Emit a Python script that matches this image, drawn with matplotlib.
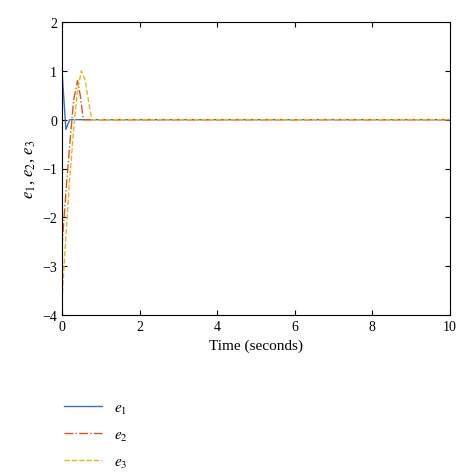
import matplotlib
matplotlib.use("Agg")
import matplotlib.pyplot as plt

t1 = [0, 0.1, 0.2, 10]
e1 = [1.0, -0.2, 0.0, 0.0]
t2 = [0, 0.1, 0.2, 0.3, 0.4, 0.47, 0.55, 10]
e2 = [-2.6, -1.5, -0.5, 0.4, 0.8, 0.5, 0.0, 0.0]
t3 = [0, 0.1, 0.2, 0.3, 0.4, 0.5, 0.6, 0.7, 0.77, 10]
e3 = [-3.7, -2.4, -1.2, -0.2, 0.6, 1.0, 0.8, 0.3, 0.0, 0.0]

plt.rcParams['font.family'] = 'Liberation Serif'
plt.rcParams['mathtext.fontset'] = 'stix'
fig = plt.figure(figsize=(4.74, 4.77), dpi=100)
ax = fig.add_axes([62/474, 1-316/477, 388/474, 293/477])
l1, = ax.plot(t1, e1, color='#3b6fb6', lw=1, label='$e_1$')
l2, = ax.plot(t2, e2, color='#d9541a', lw=1, ls='-.', label='$e_2$')
l3, = ax.plot(t3, e3, color='#edb120', lw=1, ls='--', label='$e_3$')
ax.set_xlim(0, 10)
ax.set_ylim(-4, 2)
ax.set_xticks(range(0, 11, 2))
ax.set_yticks(range(-4, 3))
ax.set_xlabel('Time (seconds)', fontsize=11)
ax.set_ylabel('$e_1$, $e_2$, $e_3$', fontsize=12)
ax.tick_params(direction='in', labelsize=10, top=True, right=True)
fig.legend(handles=[l1, l2, l3], loc='upper left', bbox_to_anchor=(50/474, 1-388/477),
           frameon=False, fontsize=11, handlelength=2.5, labelspacing=0.8)
fig.savefig('out.png', dpi=100)
